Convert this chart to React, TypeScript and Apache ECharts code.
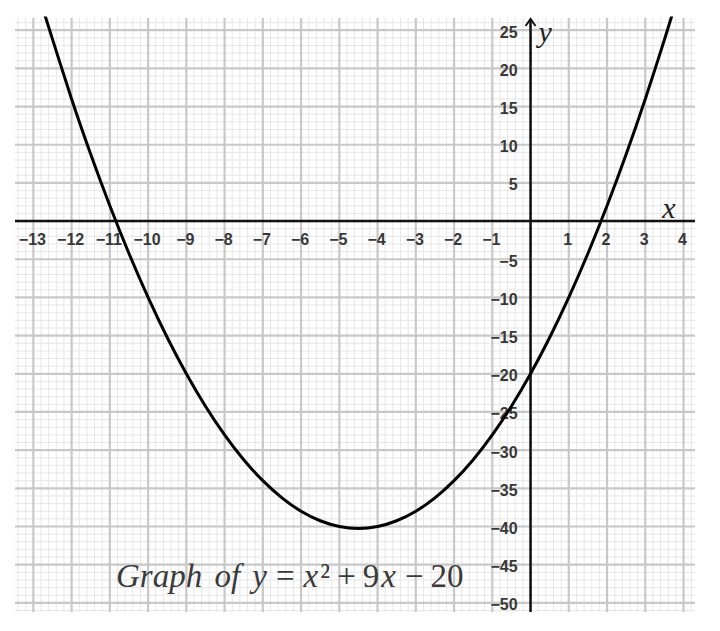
import * as echarts from "echarts";
import { useEffect, useRef } from "react";

// visible window of the plane
const X_MIN = -13.48;
const X_MAX = 4.3;
const Y_MIN = -51.2;
const Y_MAX = 26.6;

const curveX = [
    -12.7, -12, -11.5, -11, -10.5, -10, -9.5, -9, -8.5, -8, -7.5, -7, -6.5, -6, -5.5, -5, -4.5,
    -4, -3.5, -3, -2.5, -2, -1.5, -1, -0.5, 0, 0.5, 1, 1.5, 2, 2.5, 3, 3.5, 3.7,
];
const curveY = [
    27, 16, 8.75, 2, -4.25, -10, -15.25, -20, -24.25, -28, -31.25, -34, -36.25, -38, -39.25, -40,
    -40.25, -40, -39.25, -38, -36.25, -34, -31.25, -28, -24.25, -20, -15.25, -10, -4.25, 2, 8.75,
    16, 23.75, 27,
];

const xTickLabels = [-13, -12, -11, -10, -9, -8, -7, -6, -5, -4, -3, -2, -1, 1, 2, 3, 4];
const yTickLabels = [25, 20, 15, 10, 5, -5, -10, -15, -20, -25, -30, -35, -40, -45, -50];

// grid paper: major every 1 (x) / 5 (y), minor every 0.2 (x) / 1 (y)
const majorGrid: number[][] = [];
const minorGrid: number[][] = [];
for (let i = -67; i <= 21; i++) {
    (i % 5 === 0 ? majorGrid : minorGrid).push([1, i / 5]);
}
for (let j = -51; j <= 26; j++) {
    (j % 5 === 0 ? majorGrid : minorGrid).push([0, j]);
}

const fmt = (v: number) => (v < 0 ? "\u2212" + Math.abs(v) : String(v));

const gridLine = (color: string, width: number) => (_p: any, api: any) => {
    const vertical = api.value(0) === 1;
    const v = api.value(1);
    const a = vertical ? api.coord([v, Y_MIN]) : api.coord([X_MIN, v]);
    const b = vertical ? api.coord([v, Y_MAX]) : api.coord([X_MAX, v]);
    return {
        type: "line",
        shape: { x1: a[0], y1: a[1], x2: b[0], y2: b[1] },
        style: { stroke: color, lineWidth: width },
    };
};

const labelFont = {
    fontSize: 16,
    fontFamily: "Liberation Sans",
    fontWeight: "bold",
    fill: "#383838",
};

const serif = {
    fontFamily: "Liberation Serif",
    fontSize: 33,
    fontWeight: "normal",
    color: "#3a3a3a",
};

const App: React.FC = () => {
    const chartRef = useRef<HTMLDivElement>(null);

    useEffect(() => {
        document.body.style.margin = "0";
        const chart = echarts.init(chartRef.current!, null, { renderer: "svg" });

        const option = {
            animation: false,
            backgroundColor: "#ffffff",
            grid: { left: 15, top: 18, right: 25, bottom: 19 },
            xAxis: { type: "value", min: X_MIN, max: X_MAX, show: false },
            yAxis: { type: "value", min: Y_MIN, max: Y_MAX, show: false },
            title: {
                text: "{i|Graph}{i| of }{i|y}{o|=}{i|x}{m|\u00b2}{o|+}{m|9}{i|x}{o|\u2212}{m|20}",
                left: 109,
                top: 554,
                textStyle: {
                    fontWeight: "normal",
                    rich: {
                        i: { ...serif, fontStyle: "italic", padding: [0, 2] },
                        m: { ...serif },
                        o: { ...serif, padding: [0, 7] },
                    },
                },
            },
            series: [
                {
                    type: "custom",
                    silent: true,
                    data: minorGrid,
                    renderItem: gridLine("#e6e6e6", 1),
                    z: 1,
                },
                {
                    type: "custom",
                    silent: true,
                    data: majorGrid,
                    renderItem: gridLine("#c8c8c8", 2.2),
                    z: 2,
                },
                {
                    type: "custom",
                    silent: true,
                    data: [[0, 0]],
                    z: 3,
                    renderItem: (_p: any, api: any) => {
                        const o = api.coord([0, 0]);
                        const l = api.coord([X_MIN, 0]);
                        const r = api.coord([X_MAX, 0]);
                        const t = api.coord([0, Y_MAX]);
                        const b = api.coord([0, Y_MIN]);
                        const axis = { stroke: "#111", lineWidth: 2.5 };
                        return {
                            type: "group",
                            children: [
                                { type: "line", shape: { x1: l[0], y1: o[1], x2: r[0], y2: o[1] }, style: axis },
                                { type: "line", shape: { x1: o[0], y1: t[1] + 1, x2: o[0], y2: b[1] }, style: axis },
                                {
                                    type: "polyline",
                                    shape: { points: [[o[0] - 5, t[1] + 8], [o[0], t[1] + 1], [o[0] + 5, t[1] + 8]] },
                                    style: { stroke: "#111", lineWidth: 2, fill: "none" },
                                },
                                {
                                    type: "text",
                                    x: o[0] + 8,
                                    y: t[1] + 13,
                                    style: {
                                        text: "y",
                                        fontSize: 30,
                                        fontStyle: "italic",
                                        fontFamily: "Liberation Serif",
                                        fill: "#222",
                                        align: "left",
                                        verticalAlign: "middle",
                                    },
                                },
                                {
                                    type: "text",
                                    x: api.coord([3.62, 0])[0],
                                    y: o[1] - 14,
                                    style: {
                                        text: "x",
                                        fontSize: 30,
                                        fontStyle: "italic",
                                        fontFamily: "Liberation Serif",
                                        fill: "#222",
                                        align: "center",
                                        verticalAlign: "middle",
                                    },
                                },
                            ],
                        };
                    },
                },
                {
                    type: "custom",
                    silent: true,
                    data: xTickLabels.map((v) => [v, 0]),
                    z: 4,
                    renderItem: (_p: any, api: any) => {
                        const c = api.coord([api.value(0), 0]);
                        return {
                            type: "text",
                            x: c[0] - 1,
                            y: c[1] + 18,
                            style: { ...labelFont, text: fmt(api.value(0)), align: "center", verticalAlign: "middle" },
                        };
                    },
                },
                {
                    type: "custom",
                    silent: true,
                    data: yTickLabels.map((v) => [0, v]),
                    z: 4,
                    renderItem: (_p: any, api: any) => {
                        const c = api.coord([0, api.value(1)]);
                        return {
                            type: "text",
                            x: c[0] - 13,
                            y: c[1] + 2,
                            style: { ...labelFont, text: fmt(api.value(1)), align: "right", verticalAlign: "middle" },
                        };
                    },
                },
                {
                    type: "line",
                    data: curveX.map((x, i) => [x, curveY[i]]),
                    smooth: 0.3,
                    showSymbol: false,
                    clip: true,
                    silent: true,
                    z: 5,
                    lineStyle: { color: "#000", width: 3 },
                },
            ],
        };

        chart.setOption(option);

        return () => {
            chart.dispose();
        };
    }, []);

    return (
        <div
            ref={chartRef}
            style={{
                width: "720px",
                height: "631px",
            }}
        />
    );
};

export default App;
